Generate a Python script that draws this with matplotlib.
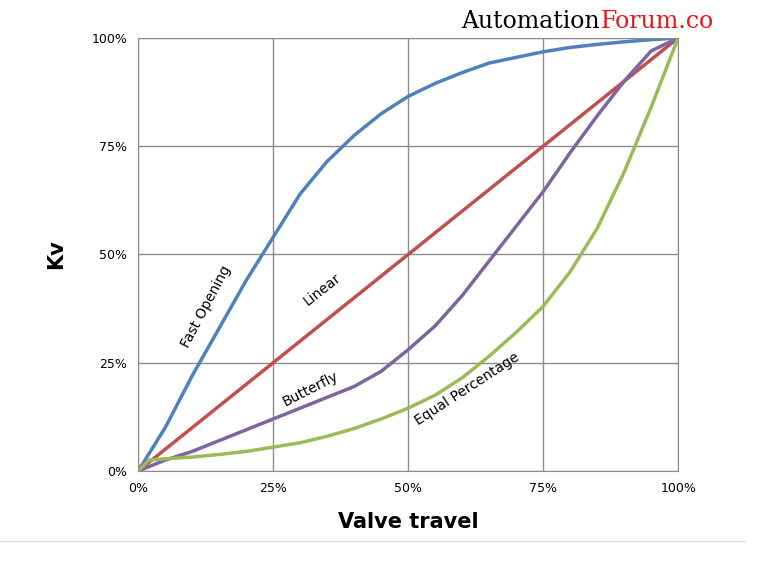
import numpy as np
import matplotlib
matplotlib.use("Agg")
import matplotlib.pyplot as plt
from matplotlib.ticker import FuncFormatter

# valve travel (%) -> Kv (%)
fast_x = [0, 5, 10, 15, 20, 25, 30, 35, 40, 45, 50, 55, 60, 65, 70, 75, 80, 85, 90, 95, 100]
fast_y = [0, 10, 22, 33, 44, 54, 64, 71.5, 77.5, 82.5, 86.5, 89.5, 92, 94.2, 95.5, 96.8, 97.8, 98.5, 99.1, 99.6, 100]
lin_x = [0, 100]
lin_y = [0, 100]
bfly_x = [0, 5, 10, 15, 20, 25, 30, 35, 40, 45, 50, 55, 60, 65, 70, 75, 80, 85, 90, 95, 100]
bfly_y = [0, 2.5, 4.5, 7, 9.5, 12, 14.5, 17, 19.5, 23, 28, 33.5, 40.5, 48.5, 56.5, 64.5, 73.5, 82, 90, 97, 100]
eq_x = [0, 2, 5, 10, 15, 20, 25, 30, 35, 40, 45, 50, 55, 60, 65, 70, 75, 80, 85, 90, 95, 100]
eq_y = [0, 2.5, 2.8, 3.2, 3.8, 4.5, 5.5, 6.5, 8, 9.8, 12, 14.5, 17.5, 21.5, 26.5, 32, 38, 46, 56, 69, 84, 100]
ticks = [0, 25, 50, 75, 100]

fig = plt.figure(figsize=(7.68, 5.66), dpi=100)
ax = fig.add_axes([0.18, 0.168, 0.703, 0.765])
ax.plot(fast_x, fast_y, color='#4F81BD', lw=2.5)
ax.plot(lin_x, lin_y, color='#C0504D', lw=2.5)
ax.plot(bfly_x, bfly_y, color='#8064A2', lw=2.5)
ax.plot(eq_x, eq_y, color='#9BBB59', lw=2.5)
ax.set_xlim(0, 100)
ax.set_ylim(0, 100)
ax.set_xticks(ticks)
ax.set_yticks(ticks)
pct = FuncFormatter(lambda v, p: f"{int(v)}%")
ax.xaxis.set_major_formatter(pct)
ax.yaxis.set_major_formatter(pct)
ax.tick_params(labelsize=9, length=0, pad=8)
ax.grid(True, color='#8c8c8c', lw=1)
for s in ax.spines.values():
    s.set_color('#8c8c8c')
ax.set_xlabel('Valve travel', fontsize=15, fontweight='bold', labelpad=12)
ax.set_ylabel('Kv', fontsize=15, fontweight='bold', labelpad=18)

ax.text(12.5, 38, 'Fast Opening', rotation=62, fontsize=10, ha='center', va='center')
ax.text(34, 42, 'Linear', rotation=38, fontsize=10, ha='center', va='center')
ax.text(32, 19, 'Butterfly', rotation=27, fontsize=10, ha='center', va='center')
ax.text(61, 19, 'Equal Percentage', rotation=33, fontsize=10, ha='center', va='center')

fig.text(0.60, 0.962, 'Automation', fontsize=17, family='DejaVu Serif', ha='left', va='center')
fig.text(0.782, 0.962, 'Forum.co', fontsize=17, family='DejaVu Serif', color='#e8141c', ha='left', va='center')
fig.add_artist(plt.Line2D([0, 0.97], [0.045, 0.045], color='#dddddd', lw=1))

fig.savefig('out.png', dpi=100)
